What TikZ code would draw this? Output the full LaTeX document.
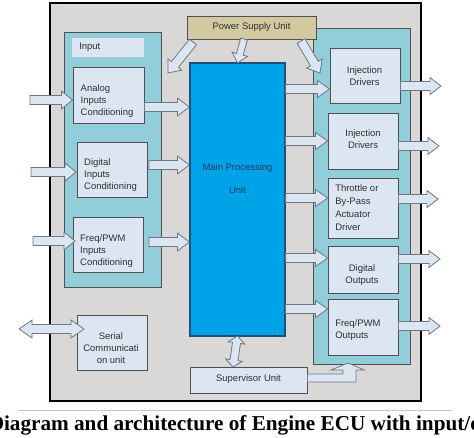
\documentclass[tikz,border=0pt]{standalone}
\usepackage{fontspec}
\setmainfont{Liberation Sans}
\newfontfamily\capfont{Liberation Serif}
\usetikzlibrary{calc,fit}
\definecolor{outerfill}{HTML}{D9D8D6}
\definecolor{panelfill}{HTML}{92CDDA}
\definecolor{boxfill}{HTML}{DCE6F2}
\definecolor{mpufill}{HTML}{00A2E8}
\definecolor{mpuline}{HTML}{1F4E79}
\definecolor{mputext}{HTML}{1F3864}
\definecolor{psufill}{HTML}{D3C9A0}
\definecolor{edge}{HTML}{505050}
\definecolor{arrline}{HTML}{6F7780}
\definecolor{txtgray}{HTML}{303030}
\definecolor{sepline}{HTML}{C8C8C8}
\tikzset{
  outer/.style={draw=black,line width=1.1pt,fill=outerfill,inner sep=0pt},
  panel/.style={draw=edge,line width=0.7pt,fill=panelfill,inner sep=0pt},
  box/.style={draw=edge,line width=0.7pt,fill=boxfill,inner sep=0pt},
  labbox/.style={fill=boxfill,inner sep=0pt},
  mpubox/.style={draw=mpuline,line width=0.9pt,fill=mpufill,inner sep=0pt},
  psubox/.style={draw=edge,line width=0.7pt,fill=psufill,inner sep=0pt},
  txt/.style={font=\fontsize{7.1}{9}\selectfont,text=txtgray,inner sep=0pt},
  arr/.style={draw=arrline,line width=0.6pt,fill=boxfill,line join=miter},
}
% block arrow: start, end, shaft half width, head half width, head length (px)
\newcommand\blk[5]{%
  \coordinate (ba) at #1; \coordinate (bb) at #2;
  \coordinate (bh) at ($(bb)!#5*0.75pt!(ba)$);
  \draw[arr] ($(ba)!#3*0.75pt!90:(bb)$) -- ($(bh)!#3*0.75pt!90:(bb)$)
    -- ($(bh)!#4*0.75pt!90:(bb)$) -- (bb) -- ($(bh)!#4*0.75pt!-90:(bb)$)
    -- ($(bh)!#3*0.75pt!-90:(bb)$) -- ($(ba)!#3*0.75pt!-90:(bb)$) -- cycle;}
% double block arrow
\newcommand\dblk[5]{%
  \coordinate (ba) at #1; \coordinate (bb) at #2;
  \coordinate (bha) at ($(ba)!#5*0.75pt!(bb)$);
  \coordinate (bhb) at ($(bb)!#5*0.75pt!(ba)$);
  \draw[arr] (ba) -- ($(bha)!#4*0.75pt!90:(bb)$) -- ($(bha)!#3*0.75pt!90:(bb)$)
    -- ($(bhb)!#3*0.75pt!-90:(ba)$) -- ($(bhb)!#4*0.75pt!-90:(ba)$) -- (bb)
    -- ($(bhb)!#4*0.75pt!90:(ba)$) -- ($(bhb)!#3*0.75pt!90:(ba)$)
    -- ($(bha)!#3*0.75pt!-90:(bb)$) -- ($(bha)!#4*0.75pt!-90:(bb)$) -- cycle;}
\begin{document}
\begin{tikzpicture}[x=0.75pt,y=-0.75pt]
\useasboundingbox (0,0) rectangle (474,437);
\clip (0,0) rectangle (474,437);
\fill[white] (0,0) rectangle (474,437);

% containers
\node[outer, fit={(50,3)(421,401)}] (ecu) {};
\node[panel, fit={(64,32)(161,287)}] (inpanel) {};
\node[panel, fit={(313,28)(410,364)}] (outpanel) {};

% input side
\node[labbox, fit={(72,38)(144,57)}] (inlab) {};
\node[txt, anchor=west] at (79,47.5) {Input};
\node[box, fit={(73,67)(144,123)}] (an) {};
\node[txt, align=left] at (107,101) {Analog\\Inputs\\Conditioning};
\node[box, fit={(77,142)(147,197)}] (di) {};
\node[txt, align=left] at (110.5,175.5) {Digital\\Inputs\\Conditioning};
\node[box, fit={(73,217)(143,272)}] (fi) {};
\node[txt, align=left] at (106.5,251) {Freq/PWM\\Inputs\\Conditioning};
\node[box, fit={(77,315)(147,370)}] (ser) {};
\node[txt, align=center] at (111,348) {Serial\\Communicati\\on unit};

% centre
\node[psubox, fit={(187,16)(316,39)}] (psu) {};
\node[txt] at (251.5,27.5) {Power Supply Unit};
\node[mpubox, fit={(190,63)(285,336)}] (mpu) {};
\node[txt, text=mputext, anchor=base] at (237.5,170) {Main Processing};
\node[txt, text=mputext, anchor=base] at (237.5,193) {Unit};
\node[box, fit={(190,367)(307,393)}] (sup) {};
\node[txt] at (248.5,379.5) {Supervisor Unit};

% output side
\node[box, fit={(330,48)(400,103)}] (inj1) {};
\node[txt, align=center] at (364.5,76) {Injection\\Drivers};
\node[box, fit={(328,113)(398,169)}] (inj2) {};
\node[txt, align=center] at (363,139.5) {Injection\\Drivers};
\node[box, fit={(328,178)(398,238)}] (thr) {};
\node[txt, align=left, anchor=west, font=\fontsize{7.1}{9.75}\selectfont] at (335,207.5) {Throttle or\\By-Pass\\Actuator\\Driver};
\node[box, fit={(328,246)(398,293)}] (dout) {};
\node[txt, align=center] at (362,275.5) {Digital\\Outputs};
\node[box, fit={(328,299)(398,355)}] (fout) {};
\node[txt, align=left, anchor=west] at (335,330.5) {Freq/PWM\\Outputs};

% input arrows
\blk{(30,100)}{(an.west |- 0,100)}{4.5}{9}{11}
\blk{(31,172)}{(76,172)}{4.5}{9}{11}
\blk{(33,241)}{(75,241)}{4.5}{9}{11}
% inputs to MPU
\blk{(an.east |- 0,107)}{(mpu.west |- 0,107)}{4.5}{9}{12}
\blk{(149,165)}{(mpu.west |- 0,165)}{4.5}{9}{12}
\blk{(149,242)}{(mpu.west |- 0,242)}{4.5}{9}{12}
% power supply arrows
\blk{(193,42)}{(168,73)}{4.5}{9}{11}
\blk{(244,39)}{(mpu.north |- 0,63)}{3.5}{8}{9}
\blk{(301,41)}{(320,73)}{4.5}{9}{11}
% MPU to outputs
\blk{(mpu.east |- 0,89)}{(inj1.west |- 0,89)}{4.5}{8.5}{12}
\blk{(mpu.east |- 0,141)}{(inj2.west |- 0,141)}{4.5}{8.5}{12}
\blk{(mpu.east |- 0,198)}{(thr.west |- 0,198)}{4.5}{8.5}{12}
\blk{(mpu.east |- 0,258)}{(dout.west |- 0,258)}{4.5}{8.5}{12}
\blk{(mpu.east |- 0,309)}{(fout.west |- 0,309)}{4.5}{8.5}{12}
% outputs
\blk{(inj1.east |- 0,86)}{(441,86)}{4.5}{8.5}{11}
\blk{(inj2.east |- 0,146)}{(439,146)}{4.5}{8.5}{11}
\blk{(thr.east |- 0,199)}{(438,199)}{4.5}{8.5}{11}
\blk{(dout.east |- 0,259)}{(440,259)}{4.5}{8.5}{11}
\blk{(fout.east |- 0,326)}{(440,326)}{4.5}{8.5}{11}
% serial and supervisor
\dblk{(19,329)}{(84,329)}{4.5}{9}{13}
\dblk{(mpu.south |- 0,336)}{(233,367)}{4}{8.3}{7}
\draw[arr] (sup.east |- 0,374) -- (343,374) -- (343,370) -- (331,370)
  -- (348,363) -- (364,370) -- (356,370) -- (356,382) -- (sup.east |- 0,382) -- cycle;

% caption
\draw[sepline, line width=0.75pt] (18,410) -- (452,410);
\node[anchor=base west, inner sep=0pt, font=\capfont\bfseries\fontsize{15.9}{18}\selectfont] (cap) at (-11.5,430) {Diagram and architecture of Engine ECU with input/output};
\end{tikzpicture}
\end{document}
